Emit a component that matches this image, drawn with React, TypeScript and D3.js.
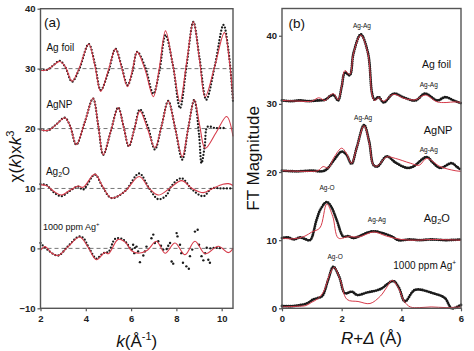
import { useEffect, useRef } from 'react';
import * as d3 from 'd3';

type Pt = [number, number];

// tick values
const kTicks = [2, 4, 6, 8, 10];
const chiTicks = [-10, 0, 10, 20, 30, 40];
const rTicks = [0, 2, 4, 6];
const ftTicks = [0, 10, 20, 30, 40];
const chiBaselines = [0, 10, 20, 30];

// (a) k-space: measured (dots) and fit (red), offset by 10 per sample
const foilChiData: Pt[] = [
  [2.0, 29.8], [2.3, 29.8], [2.55, 30.5], [2.85, 31.3], [3.1, 30.2], [3.39, 27.8], [3.7, 29.8],
  [4.13, 34.1], [4.4, 30.8], [4.66, 26.4], [5.0, 29.5], [5.31, 33.3], [5.58, 30.4], [5.84, 27.2],
  [6.05, 29.3], [6.27, 32.8], [6.62, 30.3], [6.98, 25.8], [7.25, 29.6], [7.52, 35.6], [7.85, 30.5],
  [8.16, 23.4], [8.45, 30.5], [8.75, 37.8], [9.02, 31.8], [9.32, 24.8], [9.7, 30.5], [10.08, 37.3],
  [10.3, 33.0], [10.5, 24.5],
];
const foilChiFit: Pt[] = [
  [2.0, 29.7], [2.3, 29.8], [2.55, 30.5], [2.85, 31.2], [3.1, 30.3], [3.39, 27.9], [3.7, 30.0],
  [4.13, 34.1], [4.4, 30.5], [4.66, 26.2], [5.0, 29.8], [5.31, 33.3], [5.58, 30.2], [5.84, 27.0],
  [6.05, 29.6], [6.27, 32.8], [6.62, 29.8], [6.98, 25.3], [7.25, 30.2], [7.52, 36.3], [7.85, 30.5],
  [8.16, 24.5], [8.45, 31.0], [8.75, 37.8], [9.02, 31.5], [9.27, 25.3], [9.7, 30.5], [10.12, 36.0],
  [10.35, 31.0], [10.5, 24.8],
];
const npChiData: Pt[] = [
  [2.0, 19.8], [2.35, 19.7], [2.7, 20.7], [3.07, 21.8], [3.3, 20.5], [3.58, 17.3], [3.95, 21.0],
  [4.32, 25.0], [4.55, 20.5], [4.77, 15.6], [5.1, 19.5], [5.43, 23.5], [5.67, 20.3], [5.9, 17.0],
  [6.15, 20.0], [6.39, 23.2], [6.75, 20.2], [7.05, 16.5], [7.35, 20.5], [7.64, 24.6], [7.95, 20.0],
  [8.26, 14.8], [8.52, 20.0], [8.79, 24.8], [9.0, 19.0], [9.11, 14.2], [9.25, 17.0], [9.38, 20.3],
  [9.7, 20.1], [10.2, 20.1],
];
const npChiFit: Pt[] = [
  [2.0, 19.8], [2.35, 19.7], [2.7, 20.7], [3.07, 21.8], [3.3, 20.5], [3.58, 17.3], [3.95, 21.0],
  [4.32, 25.1], [4.55, 20.5], [4.77, 15.6], [5.1, 19.5], [5.43, 23.5], [5.67, 20.3], [5.9, 17.0],
  [6.15, 20.0], [6.39, 22.95], [6.72, 20.0], [7.05, 16.8], [7.35, 20.5], [7.64, 24.6], [7.95, 20.0],
  [8.26, 15.3], [8.52, 20.0], [8.79, 24.8], [9.03, 20.5], [9.27, 16.7], [9.75, 19.3], [10.22, 22.0],
  [10.5, 18.7],
];
const oxideChiData: Pt[] = [
  [2.0, 10.7], [2.25, 10.6], [2.6, 9.3], [2.92, 8.7], [3.3, 9.6], [3.66, 10.3], [3.88, 9.8],
  [4.4, 12.3], [4.75, 10.2], [5.13, 8.4], [5.72, 9.5], [6.36, 12.5], [6.8, 10.0], [7.2, 8.2],
  [7.55, 8.8], [7.8, 10.5], [8.23, 11.7], [8.7, 9.8], [9.19, 8.7], [9.56, 10.0], [10.0, 10.0],
  [10.5, 10.0],
];
const oxideChiFit: Pt[] = [
  [2.0, 10.6], [2.25, 10.5], [2.6, 9.5], [2.92, 8.9], [3.3, 9.7], [3.66, 10.4], [3.88, 10.2],
  [4.4, 12.4], [4.75, 10.3], [5.13, 8.4], [5.72, 9.5], [6.36, 12.0], [6.8, 10.0], [7.2, 8.9],
  [7.7, 10.0], [8.23, 11.3], [8.7, 10.0], [9.19, 9.3], [9.6, 10.0], [10.05, 10.7], [10.3, 10.8],
  [10.5, 10.5],
];
const ionChiData: Pt[] = [
  [2.0, 0.9], [2.3, -0.2], [2.77, -1.2], [3.2, 0.3], [3.6, 1.8], [3.73, 2.0], [3.9, 1.7],
  [4.15, 0.0], [4.47, -1.7], [4.7, -1.0], [4.84, -0.7], [5.0, -0.6], [5.3, 1.6], [5.6, 1.6],
  [5.8, 0.9], [6.02, -0.2], [6.2, 0.2],
];
const ionChiTail: Pt[] = [[9.5, 0.0], [9.75, 0.1], [10.0, 0.0]];
const ionChiScatter: Pt[] = [
  [6.09, 0.6], [6.24, 0.3], [6.31, -0.5], [6.14, -0.8], [6.39, -2.3], [6.54, -1.2], [6.61, -0.5],
  [6.68, 0.3], [6.9, 1.7], [6.98, 2.3], [7.05, 0.9], [7.2, 1.2], [7.32, 0.45], [7.42, -0.2],
  [7.57, -0.1], [7.64, 0.45], [7.72, 0.9], [7.79, -2.2], [7.86, -2.55], [8.01, 2.55], [8.05, 2.0],
  [8.16, 0.6], [8.22, -0.8], [8.29, -2.4], [8.44, -3.0], [8.55, -3.4], [8.6, -1.3], [8.7, -0.2],
  [8.82, 2.8], [8.94, 3.1], [9.0, 0.6], [9.11, -1.3], [9.19, -2.0], [9.27, -0.8], [9.34, 0.1],
  [9.41, -1.9], [9.48, -2.4],
];
const ionChiFit: Pt[] = [
  [2.0, -0.3], [2.2, 0.3], [2.5, -0.8], [2.77, -1.2], [3.2, 0.2], [3.73, 1.9], [4.1, 0.2],
  [4.47, -1.9], [4.84, -0.7], [5.0, -0.9], [5.43, 1.5], [5.75, 1.0], [6.02, -0.4], [6.31, -0.8],
  [6.72, -0.3], [7.12, 1.2], [7.5, -0.8], [7.94, 0.9], [8.38, -1.05], [8.82, 1.2], [9.27, -0.9],
  [9.85, 0.35], [10.3, -0.7], [10.5, 0.0],
];

// (b) R-space FT magnitude, offset by 10 per sample
const foilFtData: Pt[] = [
  [0, 30.5], [0.3, 30.4], [0.6, 30.5], [0.9, 30.4], [1.2, 30.5], [1.45, 30.6], [1.6, 31.1],
  [1.73, 31.3], [1.88, 30.5], [2.0, 32.5], [2.11, 34.6], [2.27, 34.2], [2.4, 37.5], [2.64, 40.2],
  [2.88, 37.5], [3.02, 31.5], [3.1, 30.6], [3.24, 31.0], [3.41, 30.2], [3.74, 31.5], [4.1, 30.9],
  [4.47, 30.5], [4.8, 31.5], [5.2, 30.5], [5.48, 31.0], [5.75, 30.5], [6.0, 30.1],
];
const foilFtFit: Pt[] = [
  [0, 30.5], [0.6, 30.4], [1.0, 30.4], [1.23, 30.9], [1.45, 30.5], [1.6, 31.2], [1.73, 31.5],
  [1.88, 30.6], [2.0, 32.6], [2.11, 34.9], [2.27, 34.3], [2.4, 37.5], [2.64, 40.1], [2.88, 37.4],
  [3.02, 31.3], [3.1, 30.5], [3.24, 30.9], [3.41, 30.4], [3.74, 31.4], [4.1, 30.8], [4.47, 30.6],
  [4.8, 31.3], [5.2, 30.3], [5.5, 30.2], [5.8, 30.3], [6.0, 30.2],
];
const npFtData: Pt[] = [
  [0, 20.2], [0.5, 20.1], [1.0, 20.2], [1.34, 20.1], [1.5, 20.4], [1.75, 21.8], [2.0, 23.0],
  [2.15, 22.6], [2.33, 21.2], [2.5, 23.5], [2.75, 26.9], [2.92, 24.5], [3.07, 21.0], [3.2, 20.8],
  [3.51, 22.3], [3.8, 21.4], [4.19, 20.6], [4.4, 20.8], [4.85, 22.2], [5.05, 21.4], [5.3, 20.6],
  [5.69, 21.3], [5.85, 20.8], [6.0, 20.3],
];
const npFtFit: Pt[] = [
  [0, 20.2], [0.8, 20.1], [1.2, 20.2], [1.38, 20.8], [1.55, 20.6], [1.75, 22.2], [2.0, 23.5],
  [2.15, 22.8], [2.33, 21.3], [2.5, 23.5], [2.75, 26.8], [2.92, 24.4], [3.07, 21.0], [3.2, 20.9],
  [3.5, 22.2], [3.8, 22.0], [4.3, 21.3], [4.6, 21.0], [4.85, 22.0], [5.3, 20.8], [5.8, 20.2],
  [6.0, 20.1],
];
const oxideFtData: Pt[] = [
  [0, 10.3], [0.2, 10.4], [0.4, 10.1], [0.6, 10.4], [0.75, 10.2], [0.94, 10.0], [1.16, 13.0],
  [1.3, 14.6], [1.5, 15.6], [1.65, 14.9], [1.83, 13.0], [2.06, 10.5], [2.2, 10.6], [2.4, 10.3],
  [2.6, 10.6], [2.8, 11.0], [3.06, 11.3], [3.4, 11.0], [3.7, 10.5], [3.9, 10.0], [4.3, 10.1],
  [4.6, 10.0], [5.0, 10.1], [5.5, 10.0], [6.0, 10.1],
];
const oxideFtFit: Pt[] = [
  [0, 10.3], [0.4, 10.2], [0.77, 10.6], [1.0, 11.2], [1.27, 11.8], [1.5, 15.3], [1.7, 13.5],
  [1.89, 10.3], [2.2, 10.5], [2.6, 10.5], [3.07, 11.2], [3.5, 10.6], [4.0, 10.1], [4.5, 10.0],
  [5.0, 10.1], [6.0, 10.0],
];
const ionFtData: Pt[] = [
  [0, 0.35], [0.3, 0.3], [0.5, 0.4], [0.83, 0.7], [1.05, 1.3], [1.2, 1.5], [1.35, 1.8],
  [1.55, 4.2], [1.72, 6.1], [1.92, 4.6], [2.11, 2.2], [2.34, 2.45], [2.52, 1.95], [2.84, 2.3],
  [3.29, 2.8], [3.73, 4.0], [3.92, 3.0], [4.12, 1.0], [4.46, 2.7], [5.07, 2.2], [5.46, 1.5],
  [5.69, 0.0], [6.0, 0.5],
];
const ionFtFit: Pt[] = [
  [0, 0.2], [0.5, 0.3], [0.8, 0.4], [1.0, 0.9], [1.2, 1.4], [1.4, 2.5], [1.6, 5.0], [1.75, 6.0],
  [1.95, 4.2], [2.18, 1.3], [2.55, 1.0], [2.95, 0.7], [3.3, 1.8], [3.5, 3.0], [3.69, 4.1],
  [3.9, 3.0], [4.1, 1.0], [4.3, 0.2], [4.6, 0.1], [5.0, 0.2], [5.5, 0.1], [6.0, 0.2],
];

const FONT = 'Arial, "Liberation Sans", sans-serif';
const RED = '#d63b4a';
const DOT = '#1a1a1a';
const FRAME = '#555';

export default function App() {
  const svgRef = useRef<SVGSVGElement>(null);

  useEffect(() => {
    if (!svgRef.current) return;
    const svg = d3.select(svgRef.current);
    svg.selectAll('*').remove();
    svg.attr('font-family', FONT);

    // ---------- panel (a) ----------
    const xa = d3.scaleLinear().domain([2, 10.5]).range([40.5, 233]);
    const ya = d3.scaleLinear().domain([-10, 40]).range([308.3, 8.7]);
    const lineA = d3
      .line<Pt>()
      .x((d) => xa(d[0]))
      .y((d) => ya(d[1]))
      .curve(d3.curveCatmullRom.alpha(0.5));

    const ga = svg.append('g');
    ga.selectAll('line.base')
      .data(chiBaselines)
      .enter()
      .append('line')
      .attr('x1', xa(2))
      .attr('x2', xa(10.5))
      .attr('y1', (d) => ya(d))
      .attr('y2', (d) => ya(d))
      .attr('stroke', '#666')
      .attr('stroke-width', 0.9)
      .attr('stroke-dasharray', '4,3');

    const dotsA = [foilChiData, npChiData, oxideChiData, ionChiData, ionChiTail];
    dotsA.forEach((s) => {
      ga.append('path')
        .attr('d', lineA(s))
        .attr('fill', 'none')
        .attr('stroke', DOT)
        .attr('stroke-width', 2.3)
        .attr('stroke-linecap', 'round')
        .attr('stroke-dasharray', '0 3.2');
    });
    ga.selectAll('circle.scatter')
      .data(ionChiScatter)
      .enter()
      .append('circle')
      .attr('cx', (d) => xa(d[0]))
      .attr('cy', (d) => ya(d[1]))
      .attr('r', 1.2)
      .attr('fill', DOT);

    [foilChiFit, npChiFit, oxideChiFit, ionChiFit].forEach((s) => {
      ga.append('path')
        .attr('d', lineA(s))
        .attr('fill', 'none')
        .attr('stroke', RED)
        .attr('stroke-width', 1.1);
    });

    // frame + axes (a)
    ga.append('rect')
      .attr('x', xa(2))
      .attr('y', ya(40))
      .attr('width', xa(10.5) - xa(2))
      .attr('height', ya(-10) - ya(40))
      .attr('fill', 'none')
      .attr('stroke', FRAME)
      .attr('stroke-width', 1.4);
    const fmt = d3.format('d');
    const axA = ga
      .append('g')
      .attr('transform', `translate(${xa(2)},0)`)
      .call(d3.axisLeft(ya).tickValues(chiTicks).tickFormat(fmt).tickSize(3).tickSizeOuter(0));
    const bxA = ga
      .append('g')
      .attr('transform', `translate(0,${ya(-10)})`)
      .call(d3.axisBottom(xa).tickValues(kTicks).tickFormat(fmt).tickSize(3).tickSizeOuter(0));

    // ---------- panel (b) ----------
    const xb = d3.scaleLinear().domain([0, 6]).range([282, 461]);
    const yb = d3.scaleLinear().domain([0, 44]).range([308.3, 8.5]);
    const lineB = d3
      .line<Pt>()
      .x((d) => xb(d[0]))
      .y((d) => yb(d[1]))
      .curve(d3.curveCatmullRom.alpha(0.5));

    const gb = svg.append('g');
    [foilFtData, npFtData, oxideFtData, ionFtData].forEach((s) => {
      gb.append('path')
        .attr('d', lineB(s))
        .attr('fill', 'none')
        .attr('stroke', DOT)
        .attr('stroke-width', 2.8)
        .attr('stroke-linecap', 'round')
        .attr('stroke-dasharray', '0 2.1');
    });
    [foilFtFit, npFtFit, oxideFtFit, ionFtFit].forEach((s) => {
      gb.append('path')
        .attr('d', lineB(s))
        .attr('fill', 'none')
        .attr('stroke', RED)
        .attr('stroke-width', 1.0);
    });

    gb.append('rect')
      .attr('x', xb(0))
      .attr('y', yb(44))
      .attr('width', xb(6) - xb(0))
      .attr('height', yb(0) - yb(44))
      .attr('fill', 'none')
      .attr('stroke', FRAME)
      .attr('stroke-width', 1.4);
    const axB = gb
      .append('g')
      .attr('transform', `translate(${xb(0)},0)`)
      .call(d3.axisLeft(yb).tickValues(ftTicks).tickFormat(fmt).tickSize(3).tickSizeOuter(0));
    const bxB = gb
      .append('g')
      .attr('transform', `translate(0,${yb(0)})`)
      .call(d3.axisBottom(xb).tickValues(rTicks).tickFormat(fmt).tickSize(3).tickSizeOuter(0));

    // axis styling
    [axA, bxA, axB, bxB].forEach((ax) => {
      ax.select('.domain').remove();
      ax.selectAll('line').attr('stroke', FRAME).attr('stroke-width', 1.2);
      ax.selectAll('text')
        .attr('font-family', FONT)
        .attr('font-size', 9.5)
        .attr('font-weight', 'bold')
        .attr('fill', '#222');
    });
    [axA, axB].forEach((ax) => ax.selectAll('text').attr('x', -5));
    [bxA, bxB].forEach((ax) => ax.selectAll('text').attr('y', 7));

    // ---------- text labels ----------
    const label = (
      g: d3.Selection<SVGGElement, unknown, null, undefined>,
      x: number,
      y: number,
      size: number,
      anchor = 'start'
    ) =>
      g
        .append('text')
        .attr('x', x)
        .attr('y', y)
        .attr('font-size', size)
        .attr('fill', '#111')
        .attr('text-anchor', anchor);

    label(ga, xa(2.15), ya(36.9), 13.5).text('(a)');
    label(ga, xa(2.26), ya(33), 10).text('Ag foil');
    label(ga, xa(2.26), ya(23.4), 10).text('AgNP');
    const ag2oA = label(ga, xa(2.24), ya(12.2), 10);
    ag2oA.append('tspan').text('Ag');
    ag2oA.append('tspan').attr('font-size', 7).attr('dy', 2).text('2');
    ag2oA.append('tspan').attr('dy', -2).text('O');
    const ionA = label(ga, xa(2.11), ya(3.1), 9);
    ionA.append('tspan').text('1000 ppm Ag');
    ionA.append('tspan').attr('font-size', 6).attr('dy', -4).text('+');

    label(gb, xb(0.22), yb(41.2), 13.5).text('(b)');
    label(gb, xb(2.68), yb(41.1), 6.5, 'middle').text('Ag-Ag');
    label(gb, xb(4.69), yb(35.2), 10.5).text('Ag foil');
    label(gb, xb(4.92), yb(32.5), 6.5, 'middle').text('Ag-Ag');
    label(gb, xb(2.72), yb(27.6), 6.5, 'middle').text('Ag-Ag');
    label(gb, xb(4.75), yb(25.6), 11).text('AgNP');
    label(gb, xb(4.92), yb(23), 6.5, 'middle').text('Ag-Ag');
    label(gb, xb(1.51), yb(17.3), 6.5, 'middle').text('Ag-O');
    label(gb, xb(3.18), yb(12.7), 6.5, 'middle').text('Ag-Ag');
    const ag2oB = label(gb, xb(4.75), yb(12.7), 11);
    ag2oB.append('tspan').text('Ag');
    ag2oB.append('tspan').attr('font-size', 7.5).attr('dy', 2.5).text('2');
    ag2oB.append('tspan').attr('dy', -2.5).text('O');
    label(gb, xb(1.78), yb(7.2), 6.5, 'middle').text('Ag-O');
    const ionB = label(gb, xb(3.73), yb(5.8), 10);
    ionB.append('tspan').text('1000 ppm Ag');
    ionB.append('tspan').attr('font-size', 6.5).attr('dy', -4).text('+');

    // axis titles
    const yTitleA = svg
      .append('text')
      .attr('transform', `translate(21,${(ya(40) + ya(-10)) / 2 - 2}) rotate(-90)`)
      .attr('text-anchor', 'middle')
      .attr('font-size', 17)
      .attr('fill', '#111');
    yTitleA.append('tspan').text('χ(');
    yTitleA.append('tspan').attr('font-style', 'italic').text('k');
    yTitleA.append('tspan').text(')x');
    yTitleA.append('tspan').attr('font-style', 'italic').text('k');
    yTitleA.append('tspan').attr('font-size', 11).attr('dy', -7).text('3');

    const xTitleA = svg
      .append('text')
      .attr('x', (xa(2) + xa(10.5)) / 2)
      .attr('y', 347)
      .attr('text-anchor', 'middle')
      .attr('font-size', 17)
      .attr('fill', '#111');
    xTitleA.append('tspan').attr('font-style', 'italic').text('k');
    xTitleA.append('tspan').text('(Å');
    xTitleA.append('tspan').attr('font-size', 11).attr('dy', -7).text('-1');
    xTitleA.append('tspan').attr('dy', 7).text(')');

    svg
      .append('text')
      .attr('transform', `translate(259,${(yb(0) + yb(44)) / 2}) rotate(-90)`)
      .attr('text-anchor', 'middle')
      .attr('font-size', 17)
      .attr('fill', '#111')
      .text('FT Magnitude');

    const xTitleB = svg
      .append('text')
      .attr('x', (xb(0) + xb(6)) / 2)
      .attr('y', 344)
      .attr('text-anchor', 'middle')
      .attr('font-size', 17)
      .attr('fill', '#111');
    xTitleB.append('tspan').attr('font-style', 'italic').text('R');
    xTitleB.append('tspan').text('+');
    xTitleB.append('tspan').attr('font-style', 'italic').text('Δ');
    xTitleB.append('tspan').text(' (Å)');
  }, []);

  return (
    <svg
      ref={svgRef}
      width={474}
      height={351}
      viewBox="0 0 474 351"
      style={{ position: 'absolute', left: 0, top: 0, background: '#fff' }}
    />
  );
}
